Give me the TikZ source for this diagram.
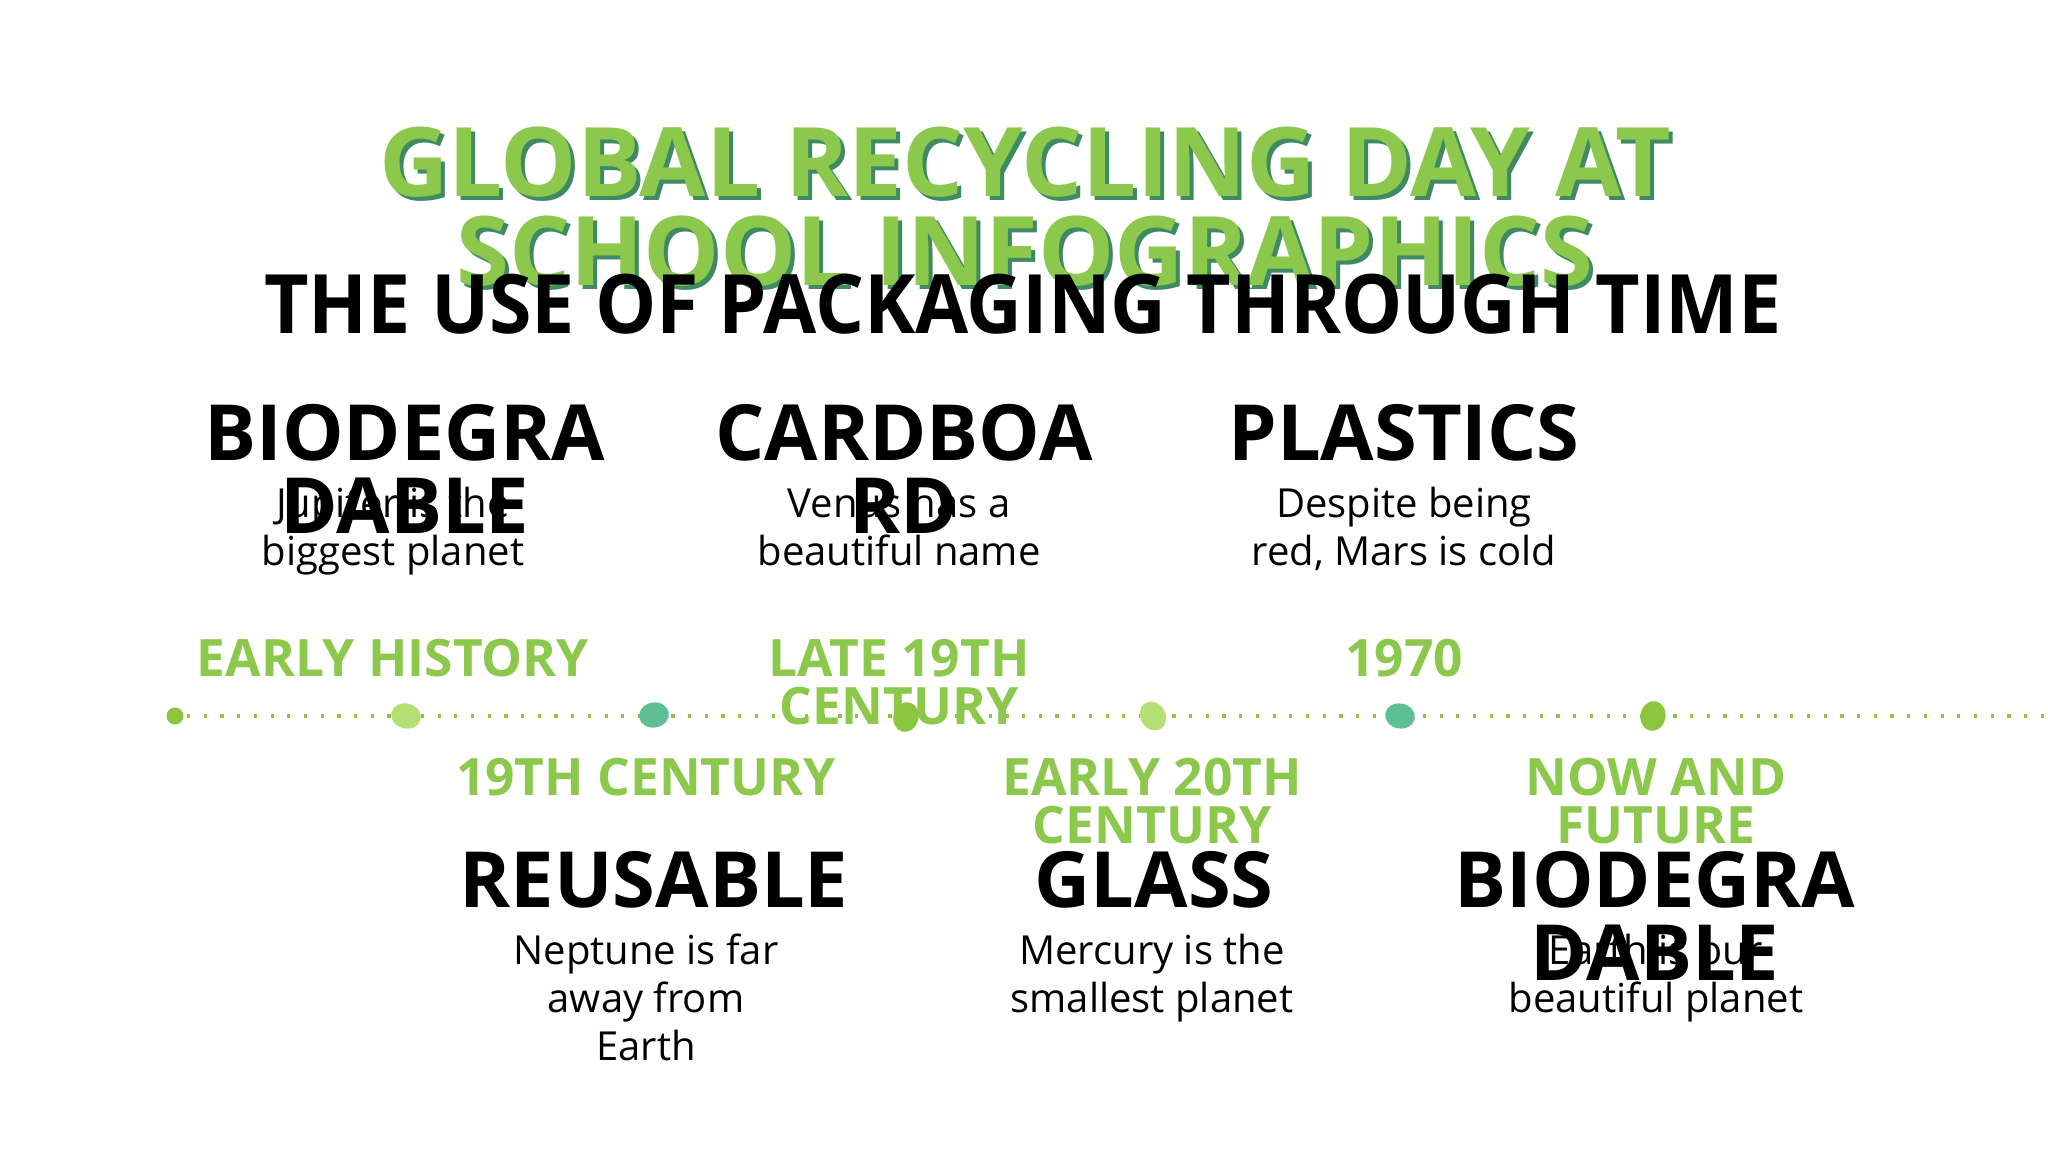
\documentclass[tikz,border=0pt]{standalone}
\usepackage{fontspec}
\setmainfont{Open Sans}
\usetikzlibrary{shapes.geometric}
\definecolor{titlegreen}{HTML}{8CC84B}
\definecolor{shadowteal}{HTML}{3E8A62}
\definecolor{lblgreen}{HTML}{8CC84B}
\definecolor{blobgreen}{HTML}{8CC63F}
\definecolor{bloblight}{HTML}{B3DF74}
\definecolor{blobteal}{HTML}{5FBF94}
\tikzset{
  titletext/.style={font=\fontsize{96}{89}\selectfont\bfseries, align=center, anchor=base, inner sep=0pt},
  subtitletext/.style={font=\fontsize{82}{82}\selectfont\bfseries, anchor=base, inner sep=0pt},
  headtext/.style={font=\fontsize{77.5}{73}\selectfont\bfseries, align=center, anchor=base, inner sep=0pt},
  desctext/.style={font=\fontsize{40}{48}\selectfont, align=center, anchor=base, inner sep=0pt},
  datetext/.style={font=\fontsize{51.5}{48}\selectfont\bfseries, text=lblgreen, align=center, anchor=base, inner sep=0pt},
  blob/.style={ellipse, minimum width=30pt, minimum height=25pt, inner sep=0pt, draw=none},
  dotline/.style={draw=blobgreen, line width=3.2pt, dash pattern=on 3.2pt off 13.5pt, dash phase=-12pt},
}
\begin{document}
\begin{tikzpicture}[x=1pt,y=-1pt]
\useasboundingbox[fill=white] (0,0) rectangle (2048,1152);
% title with shadow (anchor = baseline of last line)
\node[titletext, text=shadowteal] (titleshadow) at (1029,289) {GLOBAL RECYCLING DAY AT\\SCHOOL INFOGRAPHICS};
\node[titletext, text=titlegreen] (title) at (1025,285) {GLOBAL RECYCLING DAY AT\\SCHOOL INFOGRAPHICS};
\node[subtitletext] (subtitle) at (1023,333) {\scalebox{0.94}[1]{THE USE OF PACKAGING THROUGH TIME}};
% top row
\node[headtext] (h1) at (405,533) {BIODEGRA\\DABLE};
\node[headtext] (h2) at (904,533) {CARDBOA\\RD};
\node[headtext] (h3) at (1404,460) {PLASTICS};
\node[desctext] (t1) at (393,565) {Jupiter is the\\biggest planet};
\node[desctext] (t2) at (899,565) {Venus has a\\beautiful name};
\node[desctext] (t3) at (1404,565) {Despite being\\red, Mars is cold};
\node[datetext] (l1) at (393,676) {EARLY HISTORY};
\node[datetext] (l2) at (899,724) {LATE 19TH\\CENTURY};
\node[datetext] (l3) at (1404,676) {1970};
% bottom row
\node[datetext] (l4) at (646,795) {19TH CENTURY};
\node[datetext] (l5) at (1152,843) {EARLY 20TH\\CENTURY};
\node[datetext] (l6) at (1656,843) {NOW AND\\FUTURE};
\node[headtext] (h4) at (654,907) {REUSABLE};
\node[headtext] (h5) at (1154,907) {GLASS};
\node[headtext] (h6) at (1655,980) {BIODEGRA\\DABLE};
\node[desctext] (t4) at (646,1060) {Neptune is far\\away from\\Earth};
\node[desctext] (t5) at (1152,1012) {Mercury is the\\smallest planet};
\node[desctext] (t6) at (1656,1012) {Earth is our\\beautiful planet};
% timeline
\coordinate (d0) at (175,716);
\coordinate (lineend) at (2048,716);
\draw[dotline] (d0) -- (lineend);
\node[circle, fill=blobgreen, minimum size=17pt, inner sep=0pt] (start) at (d0) {};
\node[blob, fill=bloblight, rotate=-15] (b1) at (406,716) {};
\node[blob, fill=blobteal, rotate=10] (b2) at (654,715) {};
\node[blob, fill=blobgreen, rotate=75] (b3) at (906,717) {};
\node[blob, fill=bloblight, rotate=-60] (b4) at (1153,716) {};
\node[blob, fill=blobteal, rotate=-10] (b5) at (1400,716) {};
\node[blob, fill=blobgreen, rotate=80] (b6) at (1653,716) {};
\end{tikzpicture}
\end{document}
